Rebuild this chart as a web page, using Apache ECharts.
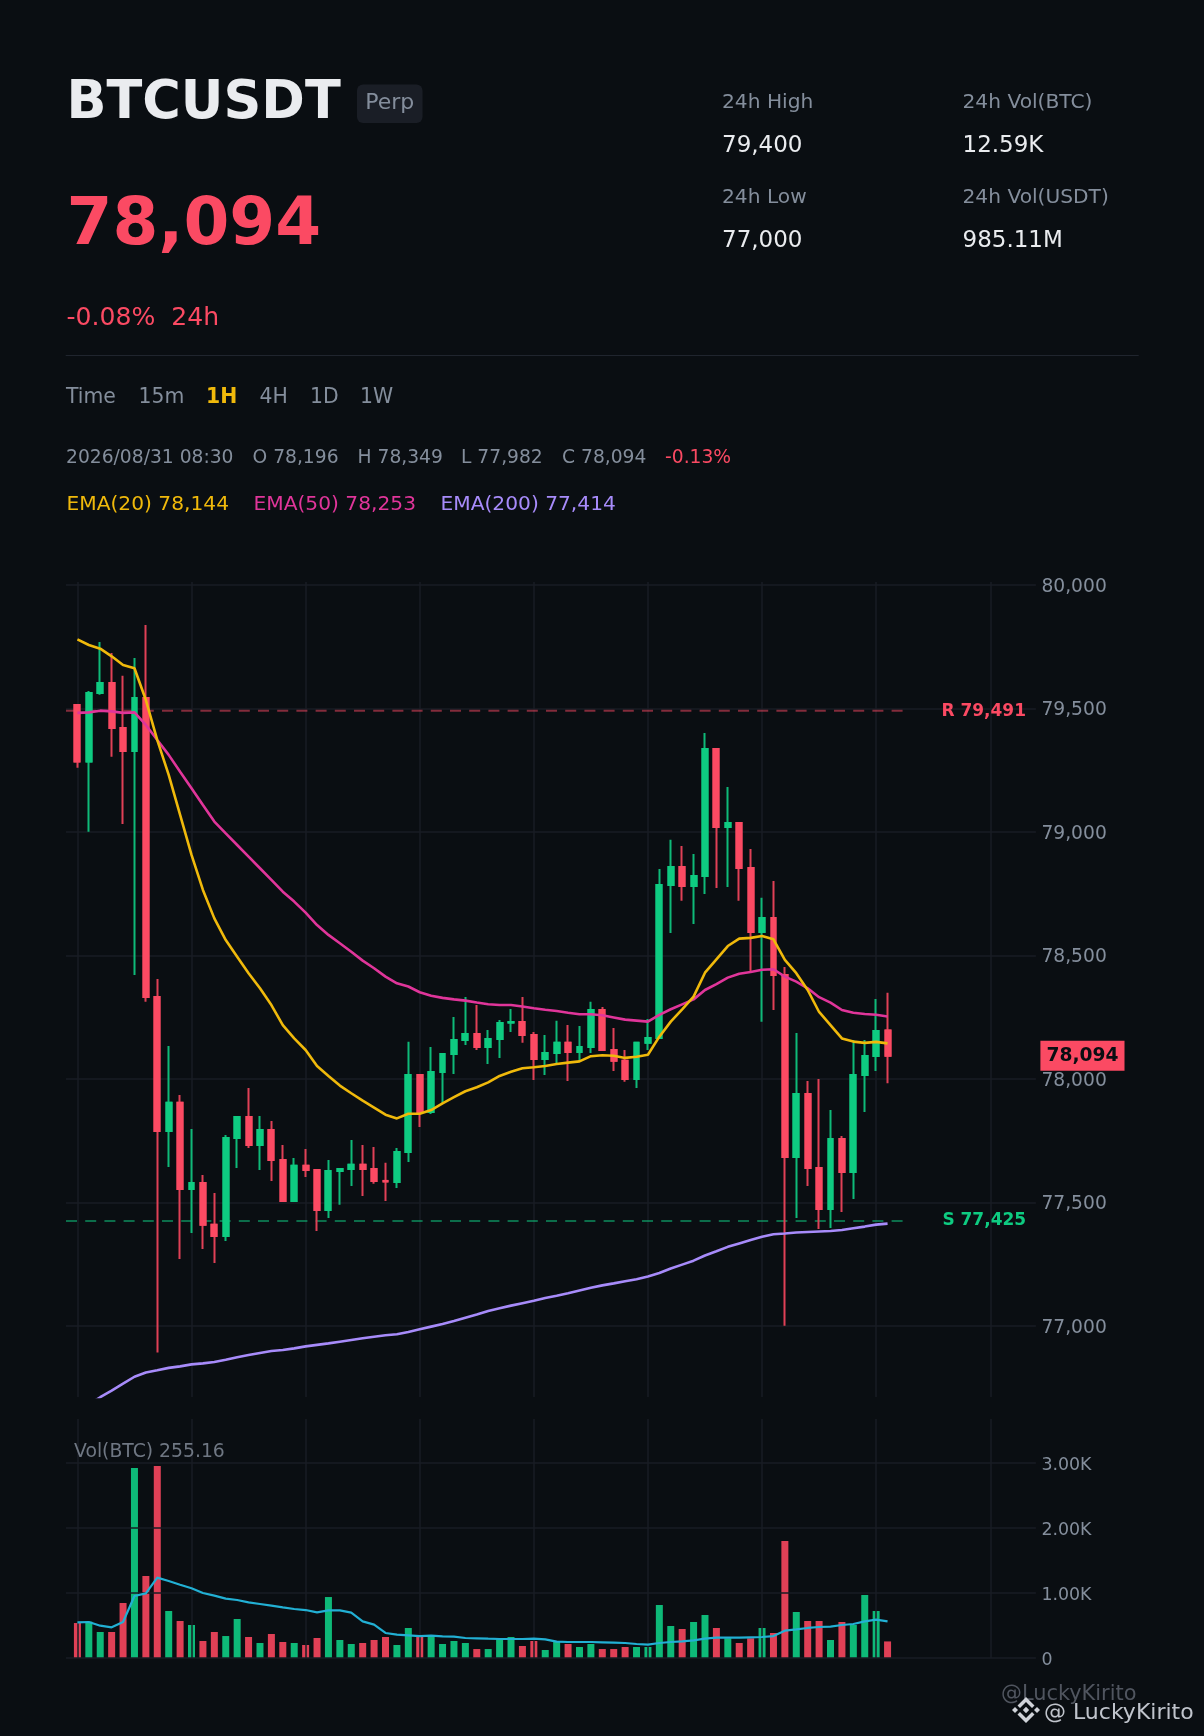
<!DOCTYPE html>
<html><head><meta charset="utf-8">
<style>html,body{margin:0;padding:0;background:#0a0e12}#c{width:1204px;height:1736px}</style>
<script src="https://cdn.jsdelivr.net/npm/echarts@6/dist/echarts.min.js"></script>
</head><body><div id="c"></div>
<script>
const opens =[79514,79285,79563,79603,79421,79328,79542,78332,77789,77903,77554,77579,77409,77364,77761,77846,77732,77793,77672,77506,77648,77631,77469,77627,77635,77652,77635,77587,77583,77704,78016,77866,78028,78101,78158,78182,78129,78162,78228,78230,78178,78081,78105,78146,78109,78129,78279,78117,78073,78000,78146,78166,78785,78858,78781,78822,79336,79020,79036,78854,78595,78652,78421,77684,77939,77639,77473,77757,77623,78016,78093,78196];
const closes=[79285,79563,79603,79421,79328,79542,78332,77789,77903,77554,77579,77409,77364,77761,77846,77732,77793,77672,77506,77648,77631,77469,77627,77635,77652,77635,77587,77585,77704,78016,77866,78028,78101,78158,78182,78129,78162,78226,78230,78178,78081,78105,78146,78109,78129,78279,78117,78073,78000,78146,78166,78785,78858,78781,78822,79336,79020,79036,78854,78595,78652,78421,77684,77939,77639,77473,77757,77623,78016,78093,78194,78094];
const highs =[79514,79571,79769,79725,79632,79704,79838,78405,78133,77935,77797,77611,77538,77773,77846,77963,77850,77830,77732,77680,77716,77631,77672,77635,77753,77732,77724,77660,77720,78150,78016,78129,78101,78251,78332,78299,78198,78239,78283,78332,78190,78178,78235,78218,78214,78312,78291,78206,78117,78146,78243,78850,78968,78943,78911,79401,79336,79182,79040,78931,78733,78801,78453,78186,77992,78000,77874,77769,78158,78158,78324,78349];
const lows  =[79260,79001,79555,79304,79032,78421,78312,76892,77643,77271,77376,77311,77255,77344,77639,77720,77631,77587,77506,77506,77603,77384,77437,77490,77566,77526,77575,77506,77558,77664,77805,77858,77901,78020,78137,78117,78060,78085,78190,78146,77996,78016,78060,77992,78074,78105,78117,78032,77988,77963,78117,78166,78591,78721,78627,78749,78773,78777,78721,78434,78231,78279,77000,77437,77566,77392,77396,77461,77514,77866,78032,77982];
const ema20 =[79780,79757,79742,79711,79676,79663,79534,79372,79231,79069,78907,78765,78650,78562,78495,78428,78367,78299,78218,78164,78117,78052,78012,77973,77942,77912,77884,77855,77840,77859,77859,77874,77901,77926,77950,77966,77986,78012,78029,78043,78047,78052,78060,78066,78071,78092,78096,78094,78085,78090,78098,78171,78232,78282,78333,78430,78484,78538,78568,78571,78579,78565,78482,78428,78360,78271,78218,78164,78151,78146,78150,78144];
const ema50 =[79482,79484,79491,79488,79482,79484,79433,79372,79312,79244,79177,79109,79042,78994,78947,78900,78853,78806,78758,78718,78673,78623,78583,78549,78515,78479,78448,78414,78387,78374,78351,78337,78328,78322,78317,78309,78302,78299,78299,78293,78286,78280,78275,78268,78262,78262,78258,78249,78240,78236,78232,78259,78282,78302,78322,78360,78384,78410,78426,78433,78442,78444,78414,78394,78367,78331,78309,78279,78268,78263,78260,78253];
const ema200=[76655,76682,76711,76738,76766,76794,76811,76820,76830,76836,76844,76848,76854,76863,76873,76882,76890,76898,76902,76909,76917,76923,76929,76936,76943,76950,76956,76962,76966,76975,76986,76997,77008,77020,77033,77046,77060,77071,77082,77092,77102,77113,77122,77132,77143,77154,77164,77172,77181,77189,77200,77214,77232,77248,77264,77285,77302,77320,77334,77348,77361,77371,77374,77378,77380,77382,77384,77388,77395,77402,77410,77414];
const volumes=[538,559,400,400,846,2923,1262,2954,723,569,508,262,400,338,600,323,231,369,246,231,200,308,938,277,215,231,277,323,200,462,323,338,215,262,231,138,138,292,323,185,262,123,262,215,169,215,138,138,169,169,169,815,492,446,554,662,462,303,231,303,462,385,1800,708,569,569,277,554,508,969,723,255];
const volMA =[549,554,497,472,554,954,995,1236,1185,1128,1072,1000,959,913,892,856,831,805,779,754,738,703,733,733,697,564,513,385,359,349,338,344,333,328,308,303,297,292,292,292,297,287,251,246,246,246,241,236,231,215,205,231,246,256,272,297,313,313,313,318,323,338,421,441,462,477,482,508,523,564,590,564];
const priceTicks=[77000,77500,78000,78500,79000,79500,80000];
const volTicks=[0,1000,2000,3000];
const resistance=79491, support=77425, lastPrice=78094;

const BG='#0a0e12',UP='#0ecb81',DOWN='#fb4a63',UPD='#0eb978',DOWND='#e04056',GRID='#181c24',MUTED='#848e9c',YEL='#f0b90b',PINK='#e0359a',PURP='#a78bfa',CYAN='#22b0d4';
const FONT='"DejaVu Sans"';
const SLOTS=86; // one lead slot + 72 candles + right-hand margin
const cats=Array.from({length:SLOTS},(_,i)=>String(i));
const pad=a=>['-'].concat(a);
const blank=['-','-','-','-'];
const candle=[blank].concat(opens.map((o,i)=>[o,closes[i],lows[i],highs[i]]));
const bodies=[blank].concat(opens.map((o,i)=>[o,closes[i],Math.min(o,closes[i]),Math.max(o,closes[i])]));
const volBars=['-'].concat(volumes.map((v,i)=>({value:v,itemStyle:{color:closes[i]>=opens[i]?UPD:DOWND}})));
const levelLine=(name,val,col,lab,dist,off)=>({name,type:'line',xAxisIndex:0,yAxisIndex:0,symbol:'none',silent:true,z:1,
  data:Array.from({length:75},()=>val),
  lineStyle:{color:col,width:2,opacity:.5,type:[11,8.2]},
  endLabel:{show:true,formatter:lab,color:col,fontFamily:FONT,fontWeight:'bold',fontSize:17,distance:dist,offset:[0,off]}});
const emaLine=(name,d,col)=>({name,type:'line',xAxisIndex:0,yAxisIndex:0,data:pad(d),symbol:'none',z:6,lineStyle:{color:col,width:2.6},silent:true});
const candleSeries=(name,d,u,dn,z)=>({name,type:'candlestick',xAxisIndex:0,yAxisIndex:0,data:d,barWidth:5.4,z:z,silent:true,
  itemStyle:{color:u,color0:dn,borderColor:u,borderColor0:dn,borderWidth:2}});

const graphic=[];
function txt(s,x,base,size,fill,weight,align){graphic.push({type:'text',silent:true,z:20,x:x,y:base-size*0.33+2,style:{text:s,fill:fill,font:(weight||'normal')+' '+size+'px '+FONT,textAlign:align||'left',textVerticalAlign:'middle'}});}
txt('BTCUSDT',66.5,120,52.5,'#eaecef','bold');
graphic.push({type:'rect',silent:true,z:19,shape:{x:357,y:84.5,width:65.5,height:38.5,r:6},style:{fill:'#1a1e26'}});
txt('Perp',389.7,109,22,MUTED,'normal','center');
txt('78,094',66.5,246.5,66,DOWN,'bold');
txt('-0.08%  24h',66.5,325,25.1,DOWN);
graphic.push({type:'rect',silent:true,z:19,shape:{x:65.7,y:355,width:1073,height:1},style:{fill:'#20252e'}});
txt('24h High',722,107,20.2,MUTED);txt('79,400',722,151.5,23,'#eaecef');
txt('24h Low',722,202,20.2,MUTED);txt('77,000',722,247,23,'#eaecef');
txt('24h Vol(BTC)',962.5,107,20.2,MUTED);txt('12.59K',962.5,151.5,23,'#eaecef');
txt('24h Vol(USDT)',962.5,202,20.2,MUTED);txt('985.11M',962.5,247,23,'#eaecef');
[['Time',66],['15m',138.5],['4H',259.5],['1D',310],['1W',360]].forEach(a=>txt(a[0],a[1],402.5,20.4,MUTED));
txt('1H',206,402.5,20.4,YEL,'bold');
[['2026/08/31 08:30',66],['O 78,196',252.5],['H 78,349',357.5],['L 77,982',461],['C 78,094',562]].forEach(a=>txt(a[0],a[1],462,18.7,MUTED));
txt('-0.13%',665,462,18.7,DOWN);
txt('EMA(20) 78,144',66.5,509.5,20.2,YEL);txt('EMA(50) 78,253',253.5,509.5,20.2,PINK);txt('EMA(200) 77,414',440.5,509.5,20.2,PURP);
txt('Vol(BTC) 255.16',74,1456.5,18.8,'#6f7783');
txt('@LuckyKirito',1001,1699.5,20.9,'#50555f');
txt('@ LuckyKirito',1044,1718.5,22,'#c0c4cc');
// logo
function poly(pts){graphic.push({type:'polygon',silent:true,z:21,shape:{points:pts},style:{fill:'#d0d3d9'}});}
const LX=1026,LY=1710;
poly([[LX,LY-13],[LX+8.5,LY-4.5],[LX+6,LY-2],[LX,LY-8],[LX-6,LY-2],[LX-8.5,LY-4.5]]);
poly([[LX,LY+13],[LX+8.5,LY+4.5],[LX+6,LY+2],[LX,LY+8],[LX-6,LY+2],[LX-8.5,LY+4.5]]);
[[0,3.2],[-11,3],[11,3]].forEach(d=>poly([[LX+d[0],LY-d[1]],[LX+d[0]+d[1],LY],[LX+d[0],LY+d[1]],[LX+d[0]-d[1],LY]]));

const option={
  backgroundColor:BG,animation:false,
  grid:[{left:66,top:582,width:969.9,height:815},{left:66,top:1419,width:969.9,height:239}],
  xAxis:[0,1].map(g=>({type:'category',gridIndex:g,data:cats,boundaryGap:false,z:g?4:0,
    axisLine:{show:false},axisTick:{show:false},axisLabel:{show:false},
    splitLine:{show:true,interval:i=>(i-1)%10===0,lineStyle:{color:GRID,width:1.5}}})),
  yAxis:[
   {type:'value',gridIndex:0,position:'right',min:76712,max:80012,scale:true,axisLine:{show:false},axisTick:{show:false,customValues:priceTicks},
    axisLabel:{customValues:priceTicks,margin:5.5,formatter:v=>'{a|'+v.toLocaleString('en-US')+'}',
      rich:{a:{color:MUTED,fontFamily:FONT,fontSize:18.7,padding:[4,0,0,0]}}},
    splitLine:{show:true,customValues:priceTicks,lineStyle:{color:GRID,width:1.5}}},
   {type:'value',gridIndex:1,position:'right',min:0,max:3677,z:4,axisLine:{show:false},axisTick:{show:false,customValues:volTicks},
    axisLabel:{customValues:volTicks,margin:5.5,formatter:v=>'{a|'+(v===0?'0':(v/1000).toFixed(2)+'K')+'}',
      rich:{a:{color:MUTED,fontFamily:FONT,fontSize:17.4,padding:[4,0,0,0]}}},
    splitLine:{show:true,customValues:volTicks,lineStyle:{color:GRID,width:1.5}}}
  ],
  series:[
    levelLine('Resistance',resistance,DOWN,'R 79,491',31,1),
    levelLine('Support',support,UP,'S 77,425',32,0),
    candleSeries('BTCUSDT',candle,UPD,DOWND,3),
    candleSeries('Bodies',bodies,UP,DOWN,4),
    emaLine('EMA(200)',ema200,PURP),emaLine('EMA(50)',ema50,PINK),emaLine('EMA(20)',ema20,YEL),
    {name:'Last',type:'scatter',xAxisIndex:0,yAxisIndex:0,symbolSize:0,silent:true,z:8,itemStyle:{opacity:1},
     data:[[String(SLOTS-1),lastPrice]],
     label:{show:true,position:'right',distance:4.5,formatter:'78,094',opacity:1,backgroundColor:DOWN,color:BG,fontFamily:FONT,fontWeight:'bold',fontSize:18.7,padding:[5,6,6,6]}},
    {name:'Vol',type:'bar',xAxisIndex:1,yAxisIndex:1,data:volBars,barWidth:7,silent:true,z:2},
    {name:'VolMA',type:'line',xAxisIndex:1,yAxisIndex:1,data:pad(volMA),symbol:'none',silent:true,z:6,lineStyle:{color:CYAN,width:2.2}}
  ],
  graphic:graphic
};
const chart=echarts.init(document.getElementById('c'),null,{width:1204,height:1736});
chart.setOption(option);
</script></body></html>
